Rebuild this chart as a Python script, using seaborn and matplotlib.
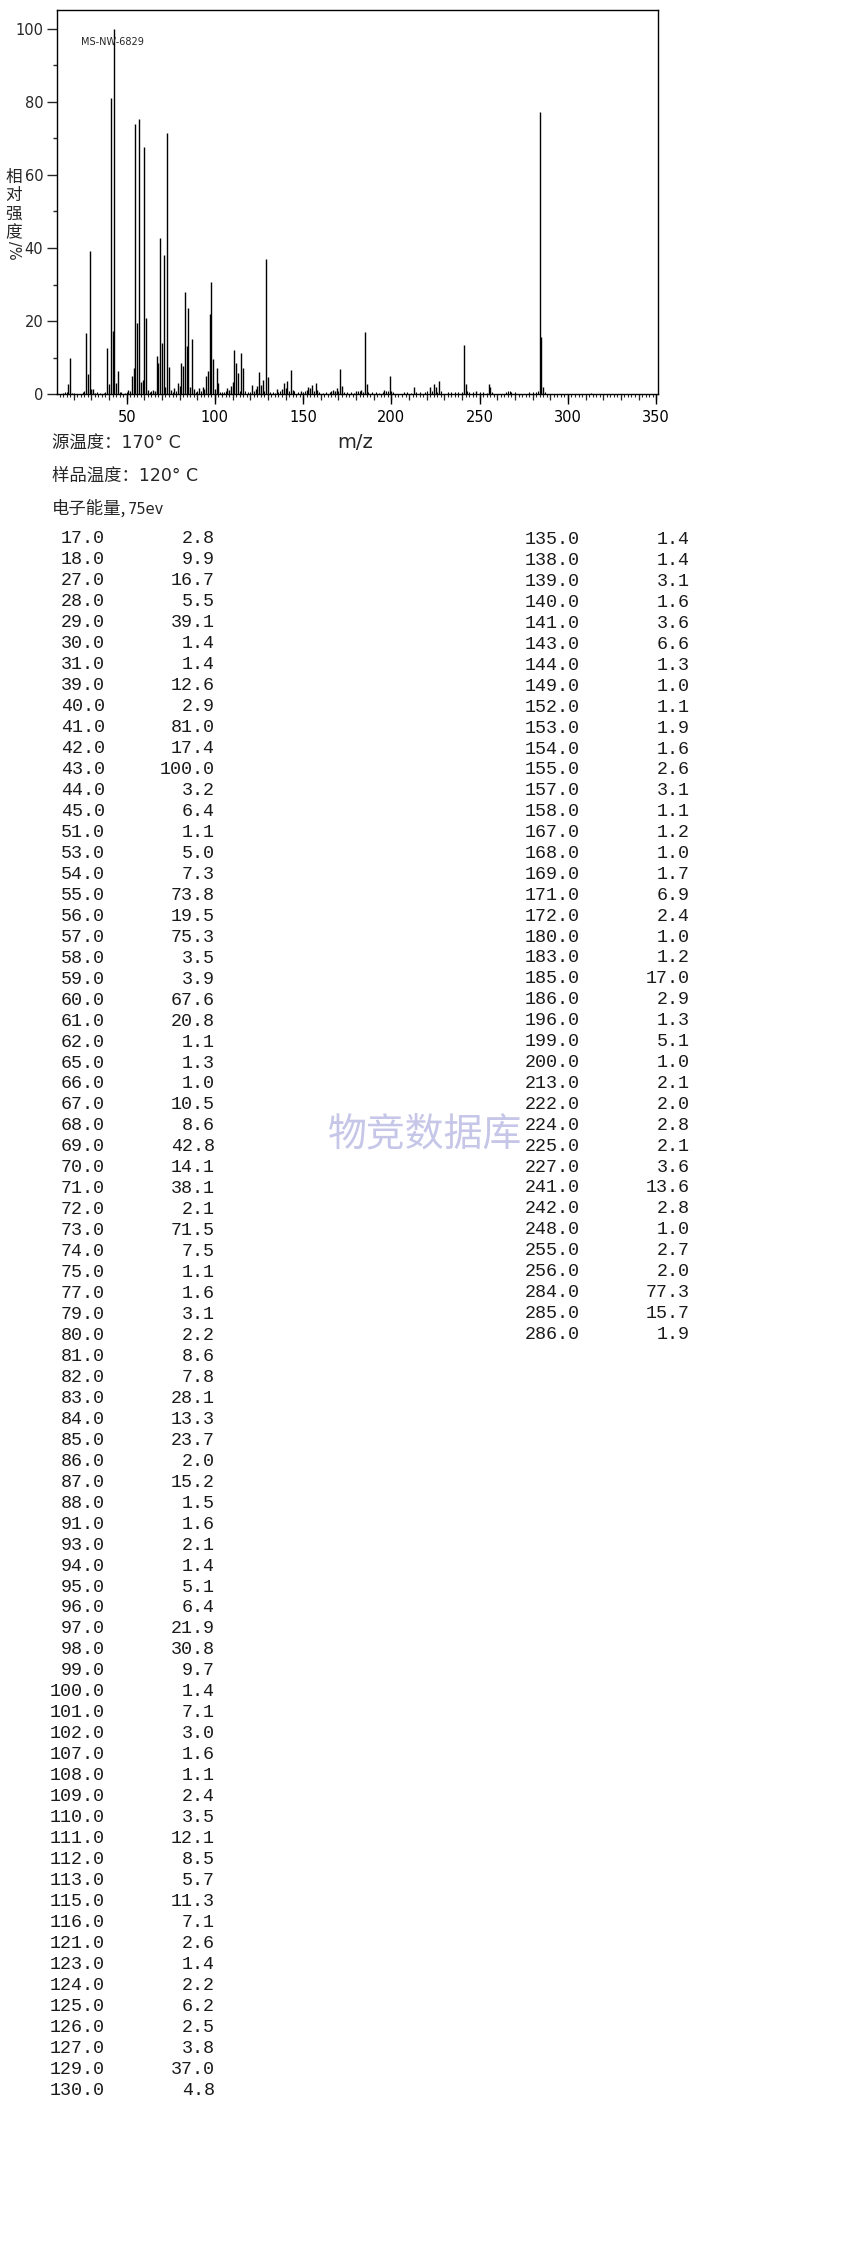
import seaborn as sns
import matplotlib.pyplot as plt
from matplotlib.ticker import MultipleLocator

# peak table (m/z, relative intensity %)
mz_left = [17, 18, 27, 28, 29, 30, 31, 39, 40, 41, 42, 43, 44, 45, 51, 53, 54, 55, 56, 57,
           58, 59, 60, 61, 62, 65, 66, 67, 68, 69, 70, 71, 72, 73, 74, 75, 77, 79, 80, 81,
           82, 83, 84, 85, 86, 87, 88, 91, 93, 94, 95, 96, 97, 98, 99, 100, 101, 102, 107, 108,
           109, 110, 111, 112, 113, 115, 116, 121, 123, 124, 125, 126, 127, 129, 130]
int_left = [2.8, 9.9, 16.7, 5.5, 39.1, 1.4, 1.4, 12.6, 2.9, 81.0, 17.4, 100.0, 3.2, 6.4, 1.1, 5.0, 7.3, 73.8, 19.5, 75.3,
            3.5, 3.9, 67.6, 20.8, 1.1, 1.3, 1.0, 10.5, 8.6, 42.8, 14.1, 38.1, 2.1, 71.5, 7.5, 1.1, 1.6, 3.1, 2.2, 8.6,
            7.8, 28.1, 13.3, 23.7, 2.0, 15.2, 1.5, 1.6, 2.1, 1.4, 5.1, 6.4, 21.9, 30.8, 9.7, 1.4, 7.1, 3.0, 1.6, 1.1,
            2.4, 3.5, 12.1, 8.5, 5.7, 11.3, 7.1, 2.6, 1.4, 2.2, 6.2, 2.5, 3.8, 37.0, 4.8]
mz_right = [135, 138, 139, 140, 141, 143, 144, 149, 152, 153, 154, 155, 157, 158, 167, 168, 169, 171, 172, 180,
            183, 185, 186, 196, 199, 200, 213, 222, 224, 225, 227, 241, 242, 248, 255, 256, 284, 285, 286]
int_right = [1.4, 1.4, 3.1, 1.6, 3.6, 6.6, 1.3, 1.0, 1.1, 1.9, 1.6, 2.6, 3.1, 1.1, 1.2, 1.0, 1.7, 6.9, 2.4, 1.0,
             1.2, 17.0, 2.9, 1.3, 5.1, 1.0, 2.1, 2.0, 2.8, 2.1, 3.6, 13.6, 2.8, 1.0, 2.7, 2.0, 77.3, 15.7, 1.9]

# small peaks (<1 %) seen on the plot only, estimated
mz_small = [14, 15, 16, 19, 20, 25, 26, 32, 33, 35, 37, 38, 46, 47, 49, 50, 52, 63, 64, 76,
            78, 89, 90, 92, 103, 104, 105, 106, 114, 117, 119, 120, 122, 128, 131, 133, 134, 136, 137, 142,
            145, 147, 150, 151, 156, 159, 161, 163, 165, 166, 170, 173, 175, 177, 179, 181, 182, 184, 187, 189,
            191, 193, 195, 197, 198, 201, 207, 209, 211, 214, 216, 219, 220, 223, 226, 228, 232, 234, 236, 238,
            240, 243, 244, 246, 250, 252, 254, 257, 265, 266, 267, 268, 270, 278, 280, 282, 283, 287, 313]
int_small = [0.4, 0.6, 0.5, 0.3, 0.4, 0.5, 0.9, 0.4, 0.5, 0.3, 0.4, 0.6, 0.7, 0.5, 0.4, 0.6, 0.8, 0.7, 0.9, 0.6,
             0.8, 0.7, 0.9, 0.8, 0.6, 0.5, 0.7, 0.9, 0.8, 0.9, 0.6, 0.7, 0.8, 0.9, 0.6, 0.5, 0.4, 0.7, 0.9, 0.8,
             0.8, 0.6, 0.7, 0.9, 0.8, 0.7, 0.4, 0.5, 0.6, 0.8, 0.9, 0.7, 0.5, 0.6, 0.4, 0.8, 0.9, 0.7, 0.6, 0.5,
             0.5, 0.4, 0.6, 0.8, 0.9, 0.7, 0.5, 0.6, 0.4, 0.7, 0.6, 0.5, 0.8, 0.9, 0.7, 0.8, 0.5, 0.6, 0.5, 0.6,
             0.7, 0.9, 0.6, 0.7, 0.5, 0.6, 0.4, 0.6, 0.6, 0.8, 0.9, 0.7, 0.5, 0.6, 0.7, 0.5, 0.8, 0.6, 0.4]

sample_id = "MS-NW-6829"
info_lines = ["源温度：170° C", "样品温度：120° C"]
energy_label = "电子能量,"
energy_value = "75ev"
ylabel_chars = ["相", "对", "强", "度"]
watermark = "物竞数据库"

W, H = 850, 2268

def fx(x):
    return x / W

def fy(y):
    return 1 - y / H

sns.set_style("white")
plt.rcParams['font.family'] = ['DejaVu Sans', 'Noto Sans CJK SC']
plt.rcParams['axes.edgecolor'] = 'black'

fig = plt.figure(figsize=(W / 100, H / 100), dpi=100)
ax = fig.add_axes([fx(57.3), fy(394.3), fx(658.3) - fx(57.3), fy(10.3) - fy(394.3)])

ax.vlines(mz_small, 0, int_small, color='black', linewidth=0.8)
ax.vlines(mz_left + mz_right, 0, int_left + int_right, color='black', linewidth=1.0)

ax.set_xlim(10.7, 351.2)
ax.set_ylim(0, 105.0)
for sp in ax.spines.values():
    sp.set_linewidth(1.0)
    sp.set_color('black')

ax.xaxis.set_major_locator(MultipleLocator(50))
ax.xaxis.set_minor_locator(MultipleLocator(2))
ax.yaxis.set_major_locator(MultipleLocator(20))
ax.yaxis.set_minor_locator(MultipleLocator(10))
ax.tick_params(axis='x', which='major', direction='out', length=7, width=1.0, pad=4.5,
               labelsize=10.5, bottom=True, colors='black')
ax.tick_params(axis='x', which='minor', direction='out', length=2.5, width=0.8, bottom=True)
ax.tick_params(axis='y', which='major', direction='out', length=7, width=1.0, pad=3,
               labelsize=10.5, left=True)
ax.tick_params(axis='y', which='minor', direction='out', length=3, width=1.0, left=True)

# medium ticks every 10
sec = ax.secondary_xaxis('bottom')
sec.set_xticks(list(range(20, 351, 10)))
sec.tick_params(direction='out', length=4.5, width=0.9, labelbottom=False)
sec.spines['bottom'].set_visible(False)

fig.text(fx(81), fy(42), sample_id, fontsize=7, va='center', ha='left', family='DejaVu Sans')

for i, ch in enumerate(ylabel_chars):
    fig.text(fx(13.5), fy(177 + 18.5 * i), ch, fontsize=12, ha='center', va='center',
             family=['Noto Sans CJK SC'])
fig.text(fx(13.5), fy(250), "/%", fontsize=10.5, ha='center', va='center', rotation=-90)

fig.text(fx(337), fy(443), "m/z", fontsize=14, ha='left', va='center', family='DejaVu Sans')

for i, line in enumerate(info_lines):
    fig.text(fx(52), fy(444 + 32 * i), line, fontsize=12.5, ha='left', va='center',
             family=['DejaVu Sans', 'Noto Sans CJK SC'])
fig.text(fx(52), fy(508), energy_label, fontsize=12.5, ha='left', va='center',
         family=['Noto Sans CJK SC'])
fig.text(fx(128), fy(509), energy_value, fontsize=10.5, ha='left', va='center',
         family='DejaVu Sans')

mono = 'Liberation Mono'
for i, (m, v) in enumerate(zip(mz_left, int_left)):
    y = fy(539 + 20.96 * i)
    fig.text(fx(105), y, f"{m:.1f}", fontsize=13.2, family=mono, ha='right', va='center', color='#1a1a1a')
    fig.text(fx(215), y, f"{v:.1f}", fontsize=13.2, family=mono, ha='right', va='center', color='#1a1a1a')
for i, (m, v) in enumerate(zip(mz_right, int_right)):
    y = fy(540 + 20.9 * i)
    fig.text(fx(580), y, f"{m:.1f}", fontsize=13.2, family=mono, ha='right', va='center', color='#1a1a1a')
    fig.text(fx(690), y, f"{v:.1f}", fontsize=13.2, family=mono, ha='right', va='center', color='#1a1a1a')

fig.text(fx(425), fy(1135), watermark, fontsize=28, ha='center', va='center',
         color='#c6c6e8', family=['Noto Sans CJK SC'])

fig.savefig("out.png", dpi=100)
